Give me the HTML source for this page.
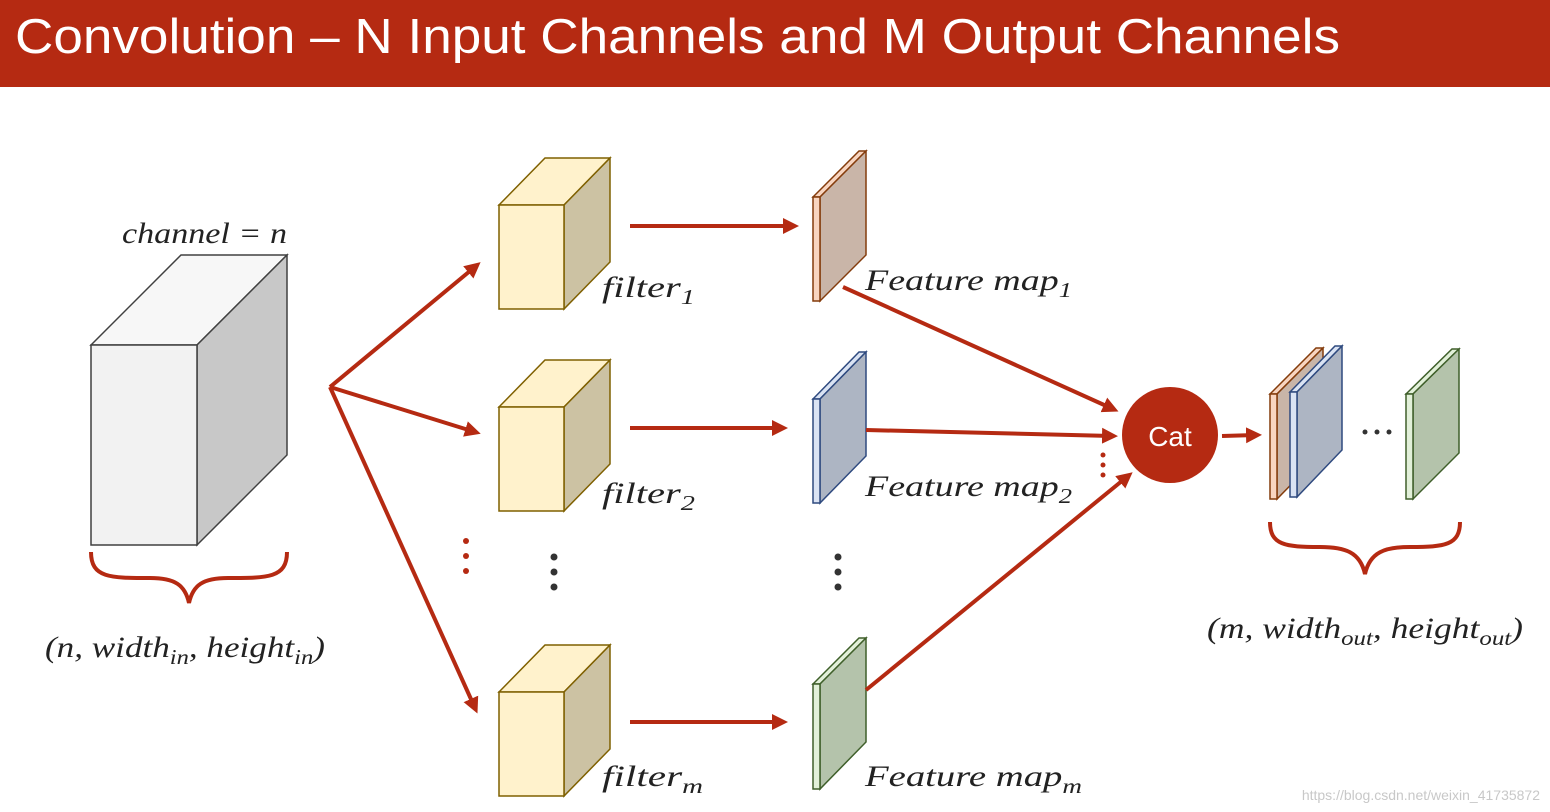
<!DOCTYPE html>
<html><head><meta charset="utf-8"><style>
body{margin:0;width:1550px;height:812px;background:#fff;overflow:hidden}
svg{display:block}
.m{font-family:"Liberation Serif",serif;font-style:italic;font-size:30px;fill:#222}
</style></head><body>
<svg width="1550" height="812" xmlns="http://www.w3.org/2000/svg">
<defs>
<marker id="a" markerWidth="5" markerHeight="5" refX="2.5" refY="2.5" orient="auto" markerUnits="strokeWidth"><path d="M0,0.5 L4,2.5 L0,4.5z" fill="#b52a12"/></marker>
</defs>
<rect x="0" y="0" width="1550" height="87" fill="#b52a12"/>
<text x="15" y="53" font-family="Liberation Sans,sans-serif" font-size="49" fill="#fff" textLength="1325" lengthAdjust="spacingAndGlyphs">Convolution – N Input Channels and M Output Channels</text>

<!-- big cube -->
<g stroke="#404040" stroke-width="1.5">
<polygon points="91,345 181,255 287,255 197,345" fill="#f7f7f7"/>
<polygon points="197,345 287,255 287,455 197,545" fill="#c8c8c8"/>
<rect x="91" y="345" width="106" height="200" fill="#f2f2f2"/>
</g>
<text class="m" x="122" y="243" textLength="165" lengthAdjust="spacingAndGlyphs">channel = n</text>
<path d="M91,552 C91,578 110,578 150,578 C175,578 185,585 189,603 C193,585 203,578 228,578 C268,578 287,578 287,552" fill="none" stroke="#b52a12" stroke-width="4"/>
<text class="m" x="45" y="657" textLength="280" lengthAdjust="spacingAndGlyphs">(n, width<tspan font-size="21" dy="7">in</tspan><tspan dy="-7">, height</tspan><tspan font-size="21" dy="7">in</tspan><tspan dy="-7">)</tspan></text>

<!-- filters -->
<g stroke="#7f6000" stroke-width="1.5">
<g id="f"><polygon points="499,205 545,158 610,158 564,205" fill="#fff2cc"/><polygon points="564,205 610,158 610,262 564,309" fill="#ccc2a3"/><rect x="499" y="205" width="65" height="104" fill="#fff2cc"/></g>
<use href="#f" y="202"/><use href="#f" y="487"/>
</g>
<text class="m" x="602" y="297" textLength="93" lengthAdjust="spacingAndGlyphs">filter<tspan font-size="21" dy="7">1</tspan></text>
<text class="m" x="602" y="503" textLength="93" lengthAdjust="spacingAndGlyphs">filter<tspan font-size="21" dy="7">2</tspan></text>
<text class="m" x="602" y="786" textLength="101" lengthAdjust="spacingAndGlyphs">filter<tspan font-size="21" dy="7">m</tspan></text>

<!-- feature maps -->
<g stroke-width="1.5">
<g stroke="#843c0c"><polygon points="813,197 859,151 866,151 820,197" fill="#f8d5c0"/><polygon points="820,197 866,151 866,255 820,301" fill="#c9b5a8"/><rect x="813" y="197" width="7" height="104" fill="#f8d5c0"/></g>
<g stroke="#2f4a7f"><polygon points="813,399 859,352 866,352 820,399" fill="#dae3f3"/><polygon points="820,399 866,352 866,456 820,503" fill="#adb5c3"/><rect x="813" y="399" width="7" height="104" fill="#dae3f3"/></g>
<g stroke="#3f5f2a"><polygon points="813,684 859,638 866,638 820,684" fill="#e2f0d9"/><polygon points="820,684 866,638 866,742 820,789" fill="#b4c3ab"/><rect x="813" y="684" width="7" height="105" fill="#e2f0d9"/></g>
</g>
<text class="m" x="865" y="290" textLength="207" lengthAdjust="spacingAndGlyphs">Feature map<tspan font-size="21" dy="7">1</tspan></text>
<text class="m" x="865" y="496" textLength="207" lengthAdjust="spacingAndGlyphs">Feature map<tspan font-size="21" dy="7">2</tspan></text>
<text class="m" x="865" y="786" textLength="217" lengthAdjust="spacingAndGlyphs">Feature map<tspan font-size="21" dy="7">m</tspan></text>

<!-- arrows -->
<g stroke="#b52a12" stroke-width="4" fill="none" marker-end="url(#a)">
<line x1="330" y1="387" x2="476" y2="266"/>
<line x1="330" y1="387" x2="475" y2="432"/>
<line x1="330" y1="387" x2="475" y2="708"/>
<line x1="630" y1="226" x2="793" y2="226"/>
<line x1="630" y1="428" x2="782" y2="428"/>
<line x1="630" y1="722" x2="782" y2="722"/>
<line x1="843" y1="287" x2="1113" y2="409"/>
<line x1="866" y1="430" x2="1112" y2="436"/>
<line x1="866" y1="690" x2="1128" y2="476"/>
<line x1="1222" y1="436" x2="1256" y2="435"/>
</g>

<!-- dots -->
<g fill="#b52a12"><circle cx="466" cy="541" r="3"/><circle cx="466" cy="556" r="3"/><circle cx="466" cy="571" r="3"/>
<circle cx="1103" cy="455" r="2.5"/><circle cx="1103" cy="465" r="2.5"/><circle cx="1103" cy="475" r="2.5"/></g>
<g fill="#333"><circle cx="554" cy="557" r="3.5"/><circle cx="554" cy="572" r="3.5"/><circle cx="554" cy="587" r="3.5"/>
<circle cx="838" cy="557" r="3.5"/><circle cx="838" cy="572" r="3.5"/><circle cx="838" cy="587" r="3.5"/>
<circle cx="1365" cy="432" r="2.5"/><circle cx="1377" cy="432" r="2.5"/><circle cx="1389" cy="432" r="2.5"/></g>

<circle cx="1170" cy="435" r="48" fill="#b52a12"/>
<text x="1170" y="446" text-anchor="middle" font-family="Liberation Sans,sans-serif" font-size="28" fill="#fff">Cat</text>

<!-- output stack -->
<g stroke-width="1.5">
<g stroke="#843c0c"><polygon points="1270,394 1316,348 1323,348 1277,394" fill="#f8d5c0"/><polygon points="1277,394 1323,348 1323,452 1277,499" fill="#c9b5a8"/><rect x="1270" y="394" width="7" height="105" fill="#f8d5c0"/></g>
<g stroke="#2f4a7f"><polygon points="1290,392 1335,346 1342,346 1297,392" fill="#dae3f3"/><polygon points="1297,392 1342,346 1342,450 1297,497" fill="#adb5c3"/><rect x="1290" y="392" width="7" height="105" fill="#dae3f3"/></g>
<g stroke="#3f5f2a"><polygon points="1406,394 1452,349 1459,349 1413,394" fill="#e2f0d9"/><polygon points="1413,394 1459,349 1459,453 1413,499" fill="#b4c3ab"/><rect x="1406" y="394" width="7" height="105" fill="#e2f0d9"/></g>
</g>
<path d="M1270,522 C1270,545 1285,547 1320,547 C1345,547 1360,552 1365,574 C1370,552 1385,547 1410,547 C1445,547 1460,545 1460,522" fill="none" stroke="#b52a12" stroke-width="4"/>
<text class="m" x="1207" y="638" textLength="316" lengthAdjust="spacingAndGlyphs">(m, width<tspan font-size="21" dy="7">out</tspan><tspan dy="-7">, height</tspan><tspan font-size="21" dy="7">out</tspan><tspan dy="-7">)</tspan></text>

<text x="1540" y="800" text-anchor="end" font-family="Liberation Sans,sans-serif" font-size="14" fill="#c8c8c8">https://blog.csdn.net/weixin_41735872</text>
</svg>
</body></html>
